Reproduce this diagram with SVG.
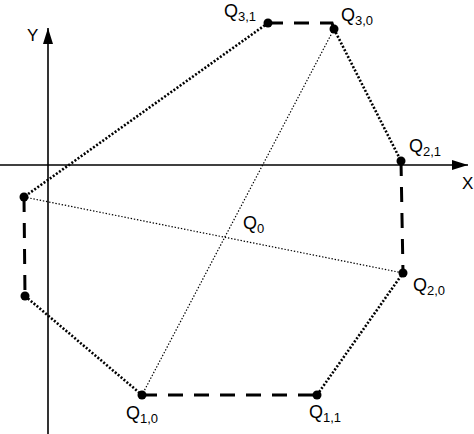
<svg xmlns="http://www.w3.org/2000/svg" width="474" height="434" viewBox="0 0 474 434">
<defs>
<style>
.axis{stroke:#000;stroke-width:1.6;fill:none}
.dash{stroke:#000;stroke-width:3;fill:none;stroke-dasharray:15 11}
.dot{stroke:#000;stroke-width:2.6;fill:none;stroke-dasharray:2 1.8}
.thin{stroke:#000;stroke-width:1.2;fill:none;stroke-dasharray:1.4 1.8}
.pt{fill:#000}
text{font-family:"Liberation Sans",Arial,sans-serif;fill:#000}
.q{font-size:18px}
.s{font-size:13px}
.ax{font-size:17px}
</style>
<marker id="arr" markerWidth="16" markerHeight="10" refX="16" refY="5" orient="auto" markerUnits="userSpaceOnUse">
<path d="M0,0 L16,5 L0,10 Z" fill="#000"/>
</marker>
</defs>
<g id="axes">
<line class="axis" x1="0" y1="165" x2="468" y2="165" marker-end="url(#arr)"/>
<line class="axis" x1="48" y1="434" x2="48" y2="28" marker-end="url(#arr)"/>
<text class="ax" x="27" y="41">Y</text>
<text class="ax" x="462" y="189">X</text>
</g>
<g id="connectors">
<path class="dash" d="M268,23 H332 L334,29"/>
<line class="dash" x1="401" y1="161" x2="403" y2="273"/>
<line class="dash" x1="24" y1="197" x2="25" y2="296"/>
<line class="dash" x1="142" y1="395" x2="317" y2="395"/>
<line class="dot" x1="268" y1="23" x2="24" y2="197"/>
<line class="dot" x1="334" y1="29" x2="401" y2="161"/>
<line class="dot" x1="25" y1="296" x2="142" y2="395"/>
<line class="dot" x1="317" y1="395" x2="403" y2="273"/>
<line class="thin" x1="334" y1="29" x2="142" y2="395"/>
<line class="thin" x1="24" y1="197" x2="403" y2="273"/>
</g>
<g id="Q31"><circle class="pt" cx="268" cy="23" r="4.5"/><text class="q" x="224" y="17">Q<tspan class="s" dy="4">3,1</tspan></text></g>
<g id="Q30"><circle class="pt" cx="334" cy="29" r="4.5"/><text class="q" x="341" y="21">Q<tspan class="s" dy="4">3,0</tspan></text></g>
<g id="Q21"><circle class="pt" cx="401" cy="161" r="4.5"/><text class="q" x="409" y="152">Q<tspan class="s" dy="4">2,1</tspan></text></g>
<g id="Q20"><circle class="pt" cx="403" cy="273" r="4.5"/><text class="q" x="413" y="291">Q<tspan class="s" dy="4">2,0</tspan></text></g>
<g id="Q11"><circle class="pt" cx="317" cy="395" r="4.5"/><text class="q" x="309" y="418">Q<tspan class="s" dy="4">1,1</tspan></text></g>
<g id="Q10"><circle class="pt" cx="142" cy="395" r="4.5"/><text class="q" x="126" y="419">Q<tspan class="s" dy="4">1,0</tspan></text></g>
<g id="P_top"><circle class="pt" cx="24" cy="197" r="4.5"/></g>
<g id="P_bottom"><circle class="pt" cx="25" cy="296" r="4.5"/></g>
<g id="Q0"><text class="q" x="243" y="229">Q<tspan class="s" dy="4">0</tspan></text></g>
</svg>
